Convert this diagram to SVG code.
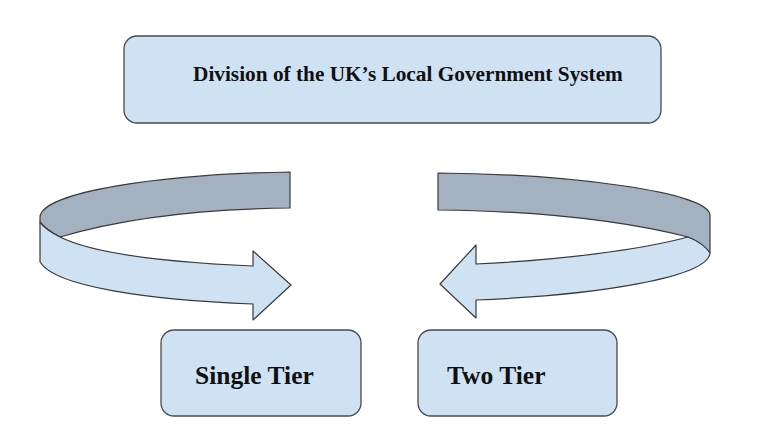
<svg xmlns="http://www.w3.org/2000/svg" width="768" height="438" viewBox="0 0 768 438">
<style>
.box{fill:#cfe2f3;stroke:#4a4a4a;stroke-width:1.3}
.lt{fill:#cfe2f3;stroke:#3a3a3a;stroke-width:1.2;stroke-linejoin:round}
.dk{fill:#a3b1c0;stroke:#3a3a3a;stroke-width:1.2;stroke-linejoin:round}
.t{font-family:"Liberation Serif","Times New Roman",serif;font-weight:bold;fill:#111}
</style>
<rect width="768" height="438" fill="#ffffff"/>
<g id="title">
<rect class="box" x="124" y="36" width="537" height="87" rx="13"/>
<text class="t" x="193" y="81" font-size="21.3">Division of the UK’s Local Government System</text>
</g>
<g id="connectors">
<g id="arrow-left">
<path class="dk" d="M290,172 C160,174 42,192 40,217 L40,222 C45,228 52,233 60,237 C120,219 200,209 290,208 Z"/>
<path class="lt" d="M40,222 L40,262 C55,287 150,300 253,304 L253,320 L291,285 L253,251 L253,266 C160,262 90,252 60,237 C50,232 43,227 40,222 Z"/>
</g>
<g id="arrow-right">
<path class="dk" d="M438,173 C570,174 708,192 710,215 L710,253 C704,246 698,241 688,237 C620,220 530,211 438,210 Z"/>
<path class="lt" d="M476,264 C560,260 640,250 688,237 C698,241 706,247 710,253 C708,277 600,295 476,300 L476,318 L440,284 L476,245 Z"/>
</g>
</g>
<g id="single-tier">
<rect class="box" x="161" y="330" width="200" height="86" rx="13"/>
<text class="t" x="195" y="384" font-size="25.5">Single Tier</text>
</g>
<g id="two-tier">
<rect class="box" x="418" y="330" width="199" height="86" rx="13"/>
<text class="t" x="447" y="384" font-size="25.5">Two Tier</text>
</g>
</svg>
